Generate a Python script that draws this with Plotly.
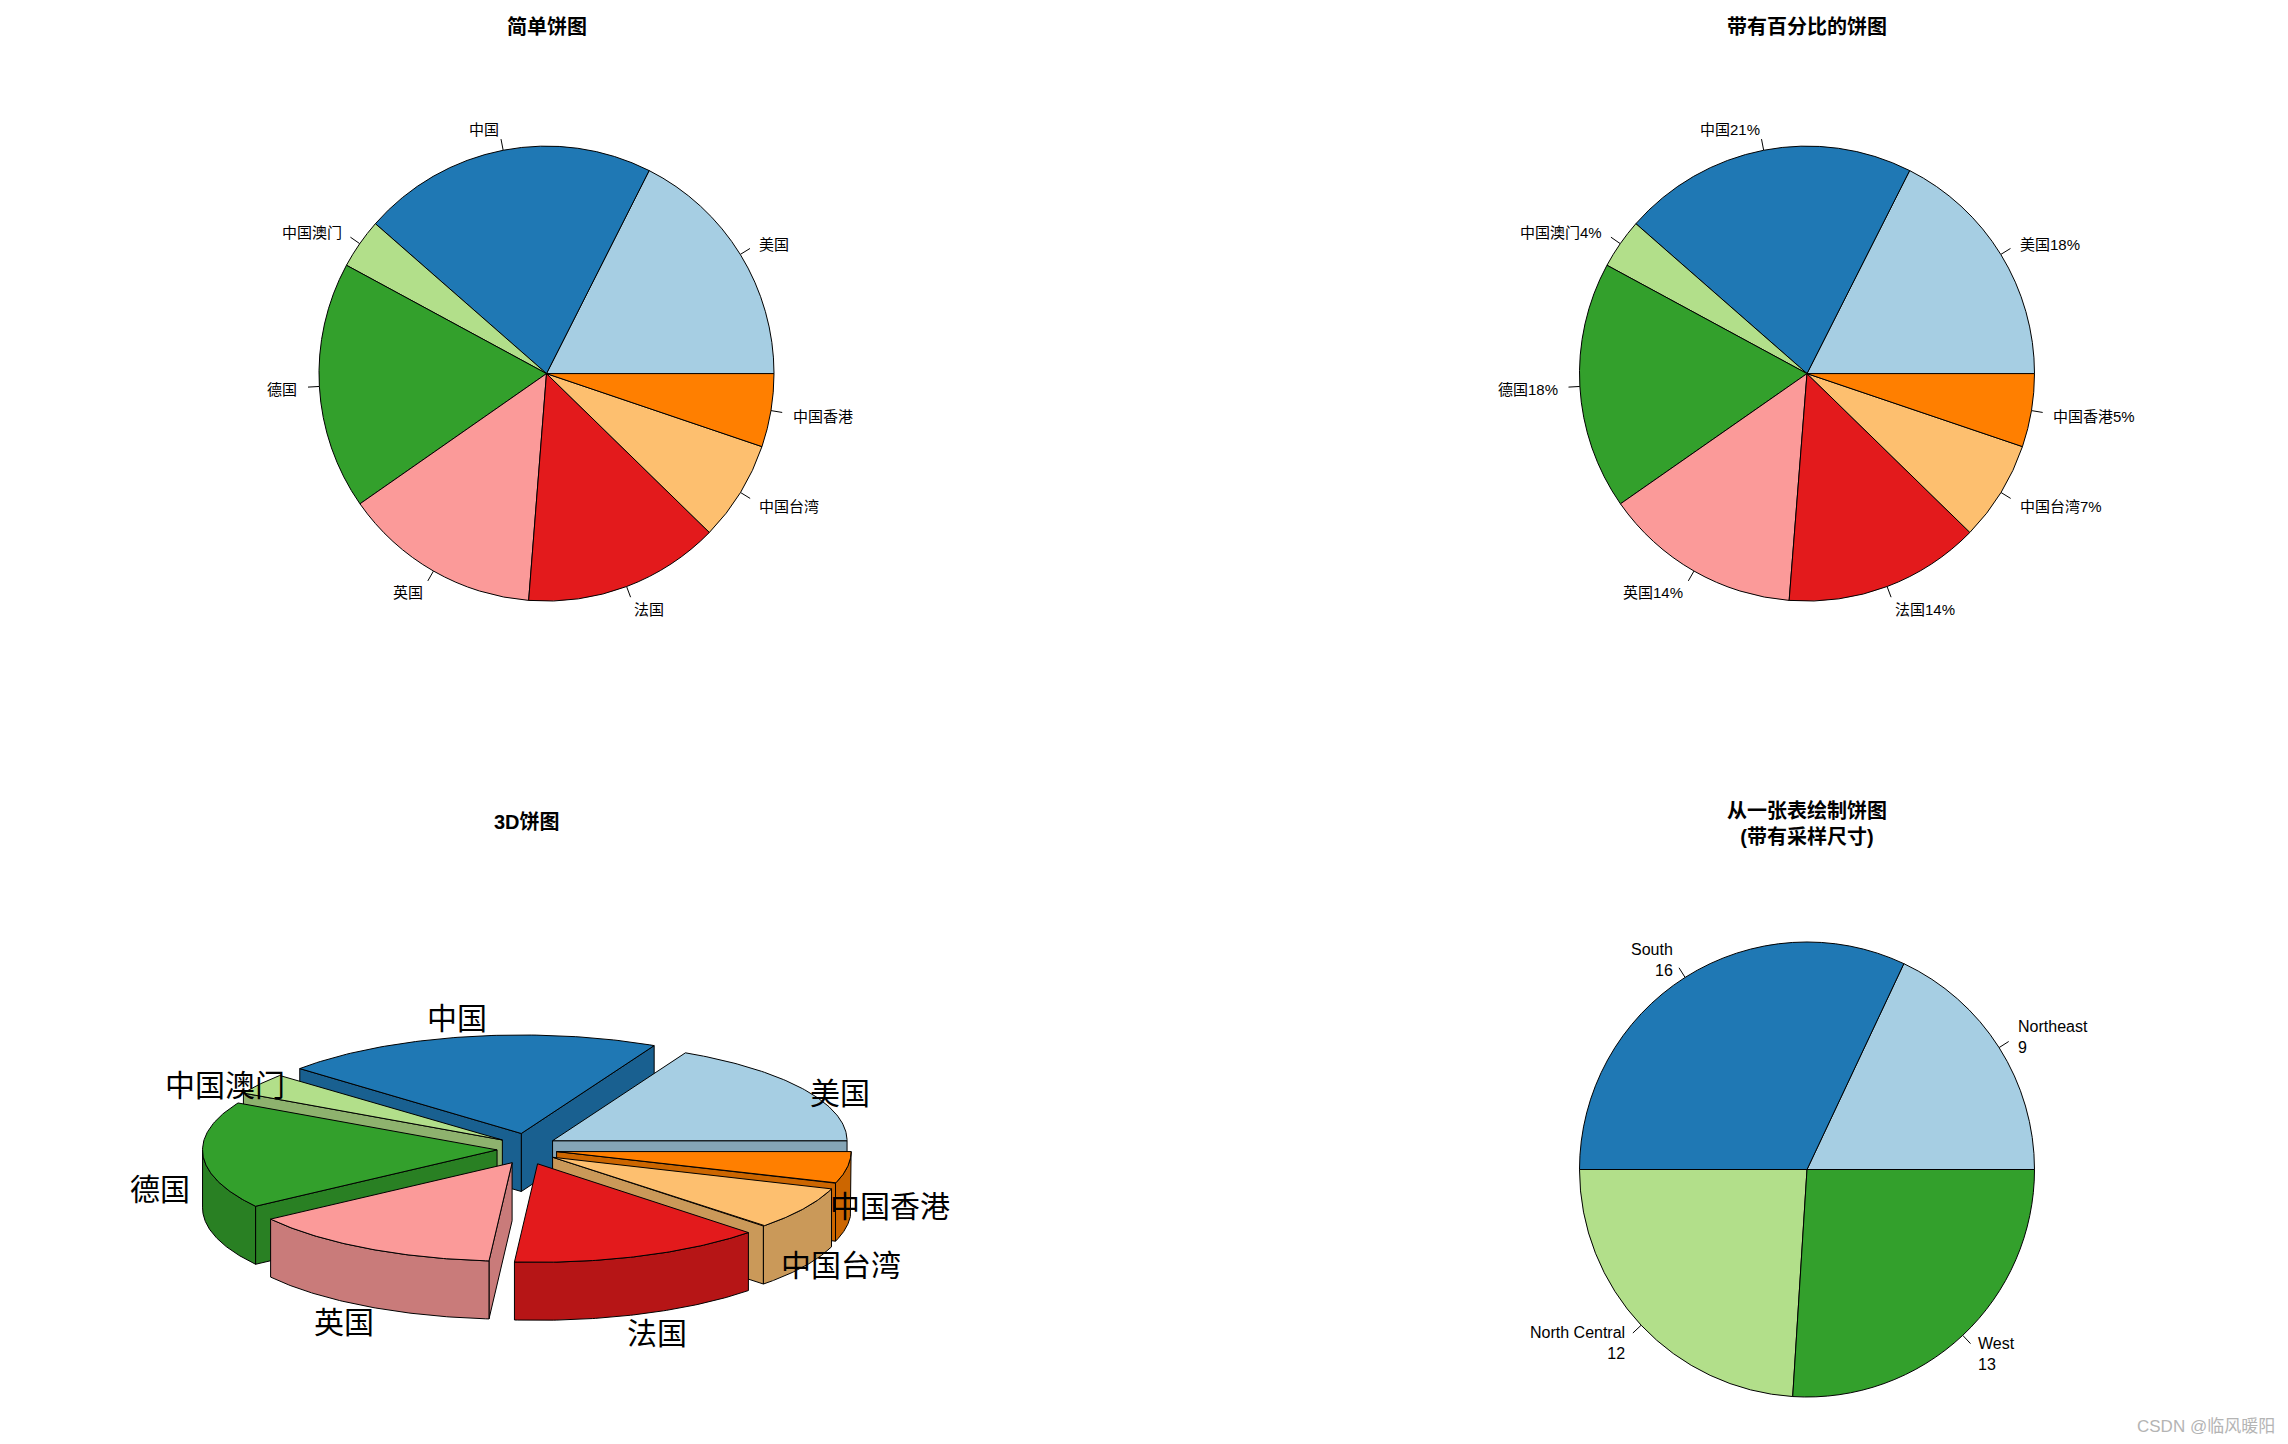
import numpy as np
import plotly.graph_objects as go

W, H = 2288, 1444

paises = ['美国', '中国', '中国澳门', '德国', '英国', '法国', '中国台湾', '中国香港']
cuota = [17.55, 21.0, 3.55, 17.6, 14.05, 13.95, 7.1, 5.2]
colores = ['#A6CEE3', '#1F78B4', '#B2DF8A', '#33A02C', '#FB9A99', '#E31A1C', '#FDBF6F', '#FF7F00']

regiones = ['Northeast', 'South', 'North Central', 'West']
muestras = [9, 16, 12, 13]

titulos = ['简单饼图', '带有百分比的饼图', '3D饼图', '从一张表绘制饼图<br>(带有采样尺寸)']

FUENTE = 'Liberation Sans, Noto Sans CJK SC'
R = 227.5


def angulos(valores):
    acum = np.cumsum([0] + list(valores)) / sum(valores) * 360
    return acum[:-1], acum[1:]


fig = go.Figure()
anot = []
tick_x, tick_y = [], []


def pie_plano(cx, cy, etiquetas, valores, cols):
    ini, fin = angulos(valores)
    # en sentido antihorario plotly mide rotation desde el final de la primera porcion
    fig.add_trace(go.Pie(values=valores, sort=False, direction='counterclockwise',
                         rotation=90 - fin[0],
                         textinfo='none', showlegend=False,
                         marker=dict(colors=cols, line=dict(color='black', width=1)),
                         domain=dict(x=[(cx - R) / W, (cx + R) / W],
                                     y=[1 - (cy + R) / H, 1 - (cy - R) / H])))
    for lab, a, b in zip(etiquetas, ini, fin):
        m = np.radians((a + b) / 2)
        tick_x.extend([cx + R * np.cos(m), cx + 1.05 * R * np.cos(m), None])
        tick_y.extend([cy - R * np.sin(m), cy - 1.05 * R * np.sin(m), None])
        derecha = np.cos(m) >= 0
        anot.append(dict(x=cx + 1.1 * R * np.cos(m) + (-1.5 if derecha else 1.5),
                         y=cy + 2 - 1.1 * R * np.sin(m),
                         text=lab, showarrow=False, borderpad=0,
                         xanchor='left' if derecha else 'right',
                         align='left' if derecha else 'right',
                         font=dict(family=FUENTE, size=15 if lab.isascii() is False else 16, color='black')))


pcts = [round(v / sum(cuota) * 100) for v in cuota]
pie_plano(546.5, 373.6, paises, cuota, colores)
pie_plano(1807, 373.6, [f'{p}{n}%' for p, n in zip(paises, pcts)], cuota, colores)
pie_plano(1807, 1169.5, [f'{r}<br>{n}' for r, n in zip(regiones, muestras)], muestras, colores[:4])

fig.add_trace(go.Scatter(x=tick_x, y=tick_y, mode='lines', showlegend=False,
                         line=dict(color='black', width=1)))

# pie 3D dibujado con poligonos, calculados desde los mismos valores
CX, CY = 527, 1149
A, B, ALTO = 294.5, 98.5, 58
EX, EY = 30, 15.8


def poligono(xs, ys, color):
    fig.add_trace(go.Scatter(x=xs, y=ys, mode='lines', fill='toself', fillcolor=color,
                             line=dict(color='black', width=1), showlegend=False))


def sombra(color, f=0.8):
    r, g, b = [int(color[i:i + 2], 16) for i in (1, 3, 5)]
    return f'rgb({r * f:.0f},{g * f:.0f},{b * f:.0f})'


ini, fin = angulos(cuota)
medios = np.radians((ini + fin) / 2)
for i in np.argsort(-np.sin(medios)):
    a, b, m, col = ini[i], fin[i], medios[i], colores[i]
    ax = CX + EX * np.cos(m)
    ay = CY - EY * np.sin(m)

    def borde(grados):
        t = np.radians(grados)
        return ax + A * np.cos(t), ay - B * np.sin(t)

    # caras radiales que se ven
    if np.cos(np.radians(a)) > 0:
        ex, ey = borde(a)
        poligono([ax, ex, ex, ax, ax], [ay, ey, ey + ALTO, ay + ALTO, ay], sombra(col))
    if np.cos(np.radians(b)) < 0:
        ex, ey = borde(b)
        poligono([ax, ex, ex, ax, ax], [ay, ey, ey + ALTO, ay + ALTO, ay], sombra(col))
    # pared exterior, solo la mitad de delante
    d0, d1 = max(a, 180), b
    if d1 > d0:
        t = np.linspace(d0, d1, 80)
        rx, ry = borde(t)
        poligono(np.r_[rx, rx[::-1], rx[0]], np.r_[ry, ry[::-1] + ALTO, ry[0]], sombra(col))
    # tapa
    rx, ry = borde(np.linspace(a, b, 80))
    poligono(np.r_[ax, rx, ax], np.r_[ay, ry, ay], col)

    anot.append(dict(x=CX + 368 * np.cos(m), y=CY + 28.3 - 164.7 * np.sin(m), text=paises[i],
                     showarrow=False, borderpad=0,
                     font=dict(family='Noto Sans CJK SC', size=30, color='black')))

for txt, x, y in zip(titulos, [547, 1807, 526.5, 1807], [26.5, 26.5, 822, 823.5]):
    anot.append(dict(x=x, y=y, text=f'<b>{txt}</b>', showarrow=False, borderpad=0,
                     font=dict(family=FUENTE, size=20, color='black')))

anot.append(dict(x=2276, y=1426, text='CSDN @临风暖阳', showarrow=False, borderpad=0, xanchor='right',
                 font=dict(family=FUENTE, size=17, color='#b4b4b4')))

fig.update_layout(width=W, height=H, margin=dict(l=0, r=0, t=0, b=0),
                  paper_bgcolor='white', plot_bgcolor='white', annotations=anot,
                  xaxis=dict(range=[0, W], visible=False),
                  yaxis=dict(range=[H, 0], visible=False))

fig.write_html("out.html", config={'displayModeBar': False},
               post_script="document.body.style.margin='0'")
